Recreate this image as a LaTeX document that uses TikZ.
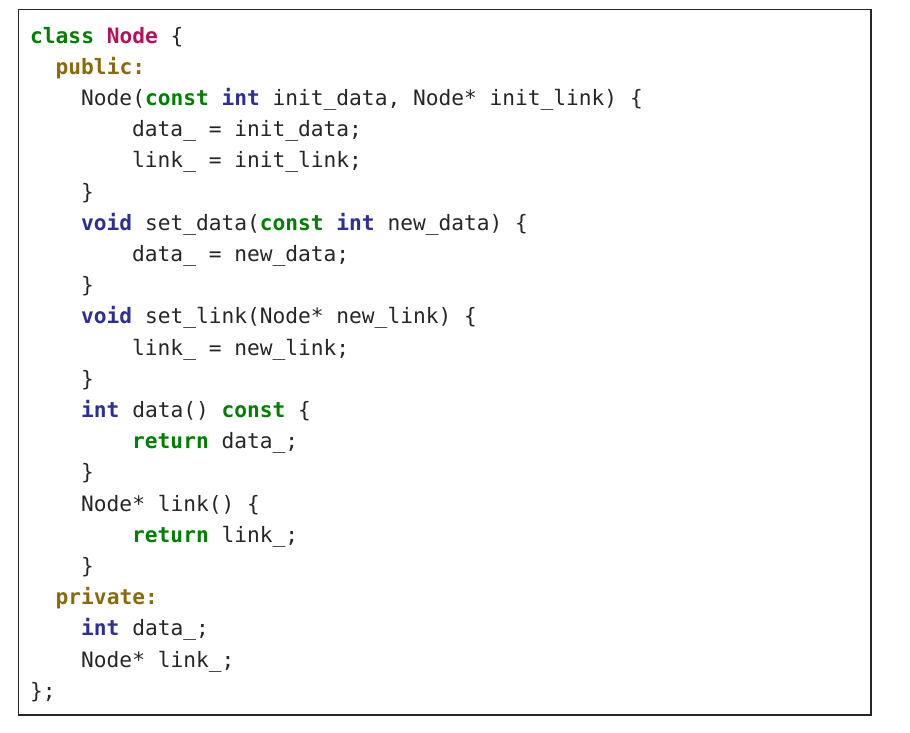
\documentclass[tikz,border=0pt]{standalone}
\usepackage{fontspec}
\setmonofont{DejaVu Sans Mono}
\definecolor{kgreen}{HTML}{008000}
\definecolor{kblue}{HTML}{2E2E99}
\definecolor{kmag}{HTML}{B5105B}
\definecolor{kolive}{HTML}{8B6A0A}
\newcommand{\kg}[1]{\textcolor{kgreen}{\bfseries #1}}
\newcommand{\kb}[1]{\textcolor{kblue}{\bfseries #1}}
\newcommand{\km}[1]{\textcolor{kmag}{\bfseries #1}}
\newcommand{\ko}[1]{\textcolor{kolive}{\bfseries #1}}
\begin{document}
\begin{tikzpicture}[x=1pt,y=-1pt,
  codeline/.style={anchor=base west,inner sep=0pt,font=\ttfamily\fontsize{21.2}{31}\selectfont,text=black!85}]
\useasboundingbox (0,0) rectangle (910,732);
\draw[line width=1.2pt,black!85] (18.5,9.5) rectangle (871,715) ;
\def\cw{12.75}
\def\bl{43}
\def\ls{31.2}
\foreach \i/\ind/\txt [count=\n] in {
0/0/{\kg{class} \km{Node} \{},
1/2/{\ko{public:}},
2/4/{Node(\kg{const} \kb{int} init\_data, Node* init\_link) \{},
3/8/{data\_ = init\_data;},
4/8/{link\_ = init\_link;},
5/4/{\}},
6/4/{\kb{void} set\_data(\kg{const} \kb{int} new\_data) \{},
7/8/{data\_ = new\_data;},
8/4/{\}},
9/4/{\kb{void} set\_link(Node* new\_link) \{},
10/8/{link\_ = new\_link;},
11/4/{\}},
12/4/{\kb{int} data() \kg{const} \{},
13/8/{\kg{return} data\_;},
14/4/{\}},
15/4/{Node* link() \{},
16/8/{\kg{return} link\_;},
17/4/{\}},
18/2/{\ko{private:}},
19/4/{\kb{int} data\_;},
20/4/{Node* link\_;},
21/0/{\};}}
{\node[codeline] (l\n) at ({30+\ind*\cw},{\bl+\i*\ls}) {\txt};}
\end{tikzpicture}
\end{document}
